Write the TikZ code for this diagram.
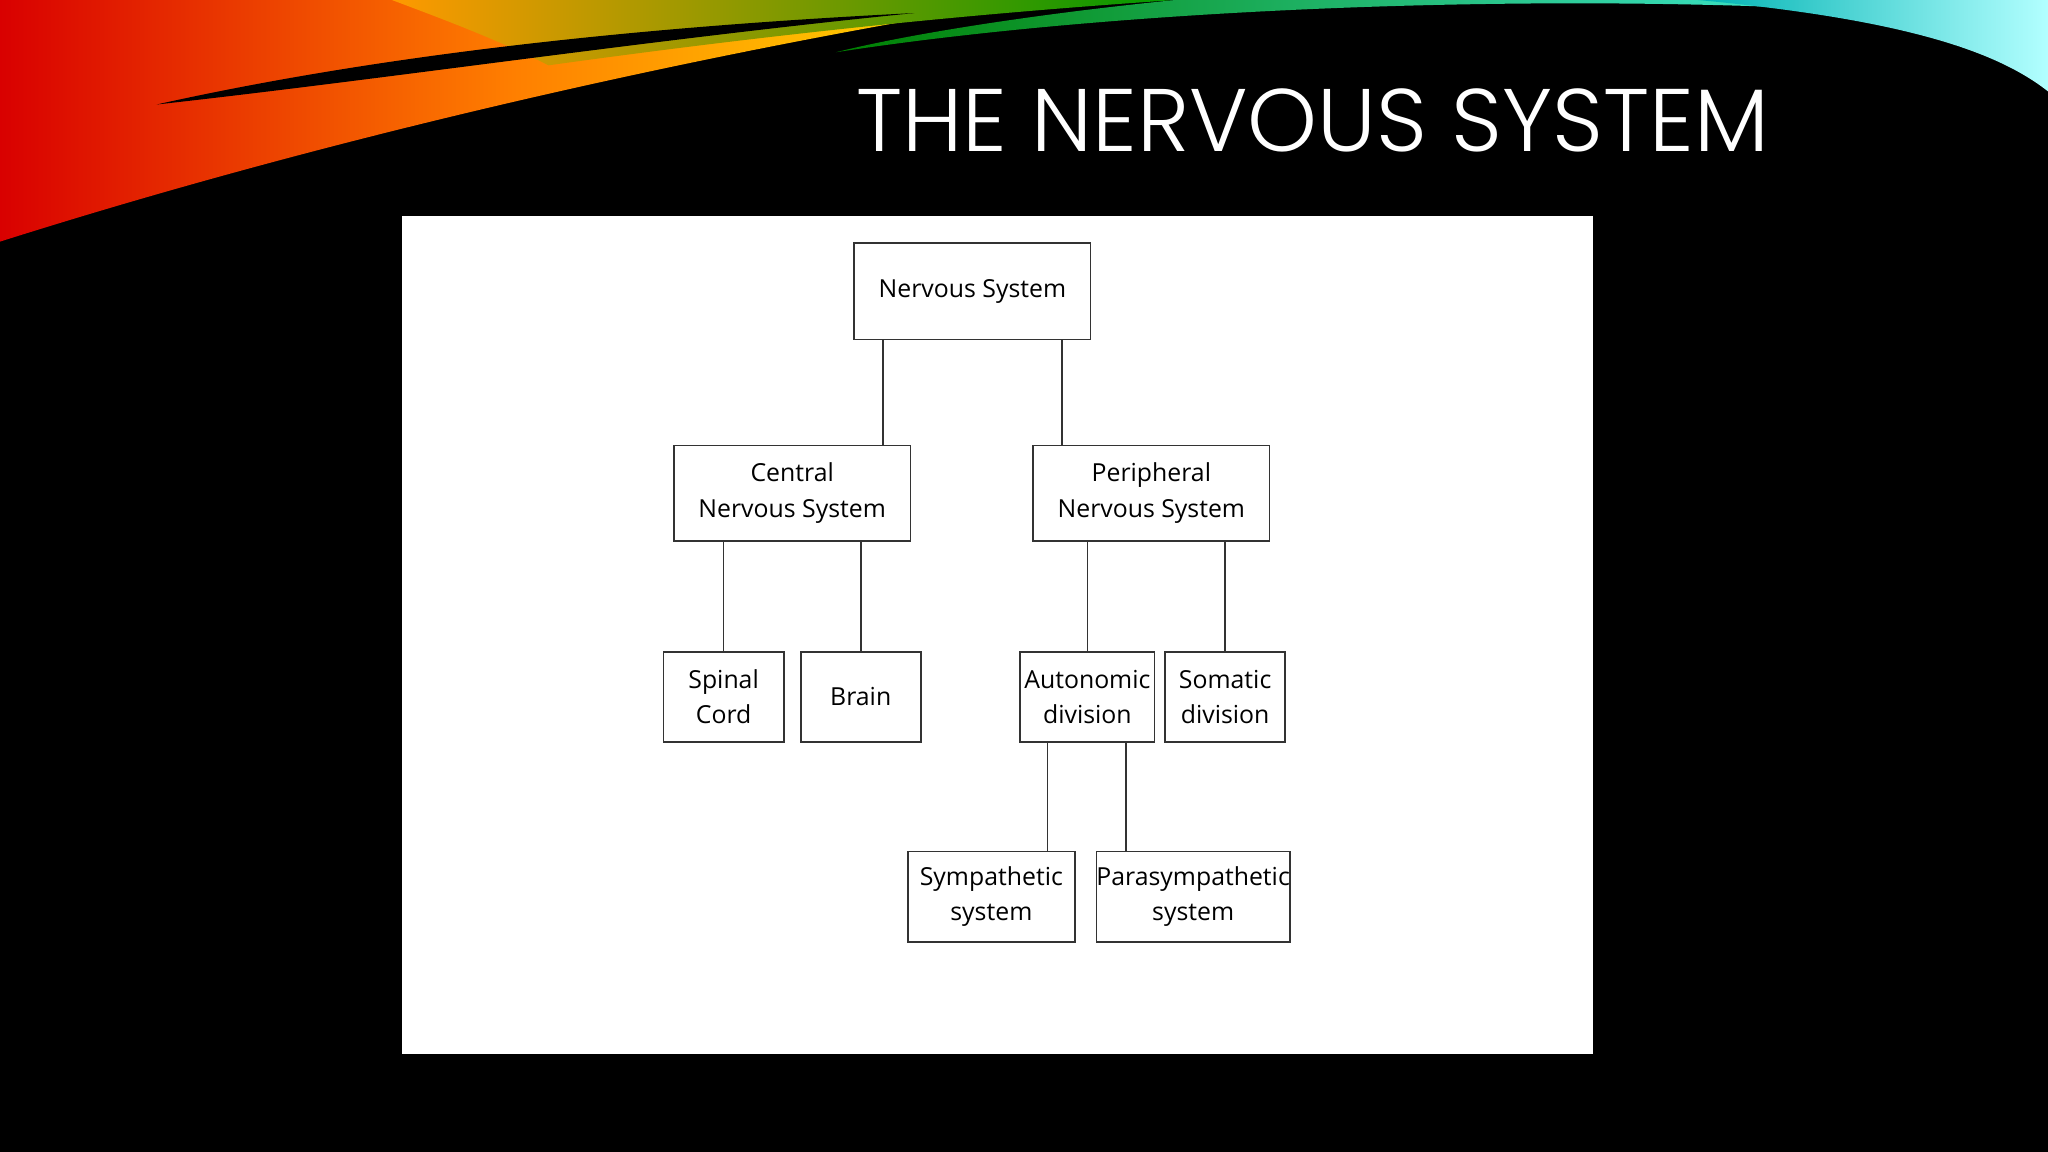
\documentclass[tikz,border=0pt]{standalone}
\usepackage{fontspec}
\setmainfont{Open Sans}
\newfontfamily\titlefont{Poppins Light}
\begin{document}
\begin{tikzpicture}[x=1pt,y=-1pt,
  bx/.style={draw=black!80,line width=1.3pt,fill=white,align=center,inner sep=0pt,font=\fontsize{19}{27}\selectfont},
  ln/.style={draw=black!80,line width=1.3pt}]
\useasboundingbox (0,0) rectangle (1568,882);
\fill[black] (0,0) rectangle (1568,882);
% swoosh
\shade[left color=red!85!black,right color=yellow!80!orange,middle color=orange]
  (0,0) -- (790,0) .. controls (600,30) and (300,90) .. (0,185) -- cycle;
\shade[left color=orange!80!yellow,right color=green!60!black]
  (300,0) -- (900,0) .. controls (750,10) and (600,25) .. (420,50) .. controls (380,30) and (340,15) .. (300,0) -- cycle;
\fill[black] (120,80) .. controls (300,40) and (500,20) .. (700,10) .. controls (500,30) and (300,60) .. (120,80) -- cycle;
\shade[left color=green!50!black,right color=cyan!70!white]
  (640,40) .. controls (900,0) and (1300,-10) .. (1568,20) -- (1568,0) -- (900,0) .. controls (800,10) and (700,25) .. (640,40) -- cycle;
\shade[left color=cyan!40!teal,right color=cyan!30!white]
  (1300,0) -- (1568,0) -- (1568,70) .. controls (1530,40) and (1460,15) .. (1300,0) -- cycle;
\node[text=white,font=\titlefont\fontsize{68}{70}\selectfont,anchor=center] (title) at (1005,92) {THE NERVOUS SYSTEM};
% panel
\fill[white] (308,165) rectangle (1220,807);
\node[bx,minimum width=181pt,minimum height=74pt] (ns) at (744.5,223) {Nervous System};
\node[bx,minimum width=181pt,minimum height=73pt] (cns) at (606.5,377.5) {Central\\Nervous System};
\node[bx,minimum width=181pt,minimum height=73pt] (pns) at (881.5,377.5) {Peripheral\\Nervous System};
\node[bx,minimum width=92pt,minimum height=69pt] (sc) at (554,533.5) {Spinal\\Cord};
\node[bx,minimum width=92pt,minimum height=69pt] (br) at (659,533.5) {Brain};
\node[bx,minimum width=103pt,minimum height=69pt] (au) at (832.5,533.5) {Autonomic\\division};
\node[bx,minimum width=92pt,minimum height=69pt] (so) at (938,533.5) {Somatic\\division};
\node[bx,minimum width=128pt,minimum height=69pt] (sy) at (759,686.5) {Sympathetic\\system};
\node[bx,minimum width=145pt,minimum height=69pt] (pa) at (913.5,686.5) {Parasympathetic\\system};
\draw[ln] (676,0 |- ns.south) -- (676,0 |- cns.north);
\draw[ln] (813,0 |- ns.south) -- (813,0 |- pns.north);
\draw[ln] (sc.north |- cns.south) -- (sc.north);
\draw[ln] (br.north |- cns.south) -- (br.north);
\draw[ln] (au.north |- pns.south) -- (au.north);
\draw[ln] (so.north |- pns.south) -- (so.north);
\draw[ln] (802,0 |- au.south) -- (802,0 |- sy.north);
\draw[ln] (862,0 |- au.south) -- (862,0 |- pa.north);
\end{tikzpicture}
\end{document}
